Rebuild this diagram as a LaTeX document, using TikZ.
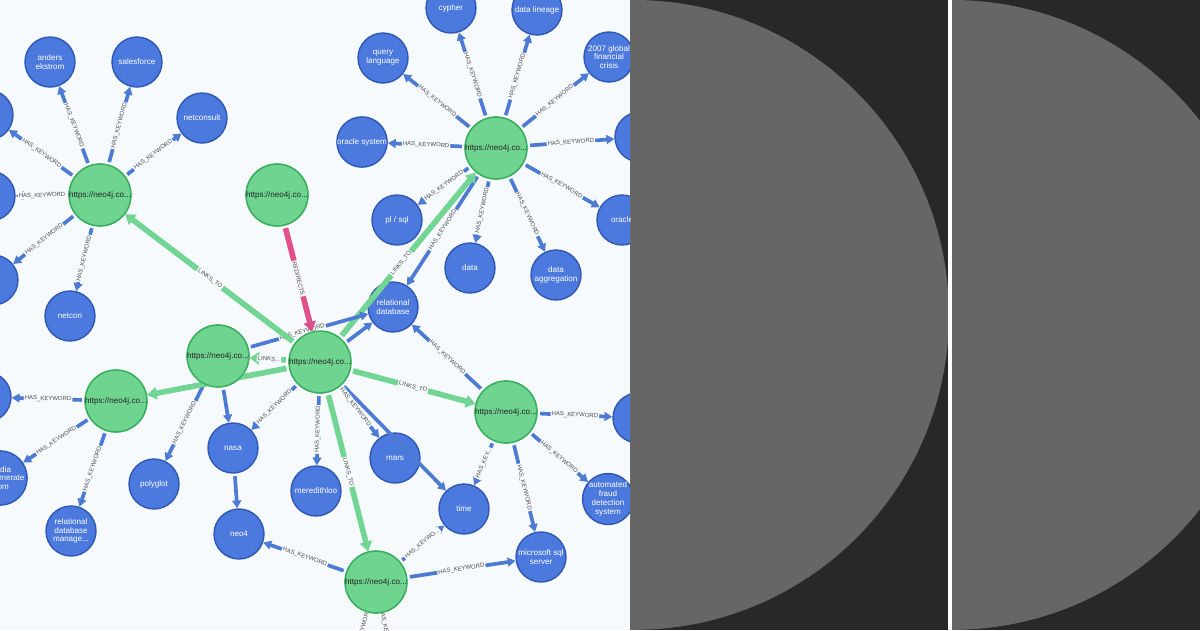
\documentclass[tikz,border=0pt]{standalone}
\usepackage{fontspec}
\setmainfont{Liberation Sans}
\usetikzlibrary{arrows.meta}
\definecolor{bgc}{HTML}{F6FAFD}
\definecolor{kwfill}{HTML}{4C79DD}
\definecolor{kwdraw}{HTML}{2F58B5}
\definecolor{pgfill}{HTML}{6FD48F}
\definecolor{pgdraw}{HTML}{3AAE5E}
\definecolor{eblue}{HTML}{4D7BD3}
\definecolor{egreen}{HTML}{72D593}
\definecolor{epink}{HTML}{E0508A}
\definecolor{darkbg}{HTML}{282828}
\definecolor{halfc}{HTML}{666666}
\tikzset{
 kw/.style={circle,fill=kwfill,draw=kwdraw,line width=0.8pt,minimum size=1cm,inner sep=0pt,align=center,text=white,font=\fontsize{4.6}{5}\selectfont},
 pg/.style={circle,fill=pgfill,draw=pgdraw,line width=0.8pt,minimum size=1.22cm,inner sep=0pt,align=center,text=black!85,font=\fontsize{4.6}{5}\selectfont},
 hk/.style={draw=eblue,line width=2.1pt,-{Triangle[length=4.5pt,width=5pt]},shorten <=1.5pt},
 lt/.style={draw=egreen,line width=3.2pt,-{Triangle[length=5.5pt,width=7pt]},shorten <=1.5pt},
 rd/.style={draw=epink,line width=3.2pt,-{Triangle[length=5.5pt,width=7pt]},shorten <=1.5pt},
 el/.style={midway,sloped,fill=bgc,inner sep=0.6pt,text=black!70,font=\fontsize{3.4}{3.6}\selectfont},
}
\begin{document}
\begin{tikzpicture}[x=0.02cm,y=-0.02cm]
\useasboundingbox (0,0) rectangle (1200,630);
\fill[bgc] (0,0) rectangle (630,630);
\fill[darkbg] (630,0) rectangle (1200,630);
\fill[halfc] (630,0) rectangle (634,630);
\fill[halfc] (634,0) arc[start angle=90,end angle=-90,radius=6.3cm] -- cycle;
\begin{scope}
\clip (952,0) rectangle (1200,630);
\fill[halfc] (952,0) arc[start angle=90,end angle=-90,radius=6.3cm] -- cycle;
\end{scope}
\fill[white] (948,0) rectangle (952,630);
\begin{scope}
\clip (0,0) rectangle (630,630);
% hubs
\node[pg] (A) at (100,195) {https://neo4j.co...};
\node[pg] (B) at (277,195) {https://neo4j.co...};
\node[pg] (C) at (320,362) {https://neo4j.co...};
\node[pg] (D) at (218,356) {https://neo4j.co...};
\node[pg] (E) at (116,401) {https://neo4j.co...};
\node[pg] (F) at (496,148) {https://neo4j.co...};
\node[pg] (G) at (506,412) {https://neo4j.co...};
\node[pg] (H) at (376,582) {https://neo4j.co...};
% keywords
\node[kw] (ak) at (50,62) {anders\\ekstrom};
\node[kw] (sf) at (137,62) {salesforce};
\node[kw] (nc) at (202,118) {netconsult};
\node[kw] (nt) at (70,316) {netcon};
\node[kw] (l1) at (-12,115) {};
\node[kw] (l2) at (-10,196) {};
\node[kw] (l3) at (-7,280) {};
\node[kw] (cy) at (451,8) {cypher};
\node[kw] (dl) at (537,10) {data lineage};
\node[kw] (ql) at (383,58) {query\\language};
\node[kw] (gf) at (609,57) {2007 global\\financial\\crisis};
\node[kw] (os) at (362,142) {oracle system};
\node[kw] (cb) at (640,137) {com\\b\\s};
\node[kw] (ps) at (397,220) {pl / sql};
\node[kw] (da) at (470,268) {data};
\node[kw] (dg) at (556,275) {data\\aggregation};
\node[kw] (or) at (622,220) {oracle};
\node[kw] (rd) at (393,307) {relational\\database};
\node[kw] (ts) at (638,418) {ti\\s};
\node[kw] (af) at (608,499) {automated\\fraud\\detection\\system};
\node[kw] (ms) at (541,557) {microsoft sql\\server};
\node[kw] (ti) at (464,509) {time};
\node[kw] (ma) at (395,458) {mars};
\node[kw] (me) at (316,491) {meredithloo};
\node[kw] (na) at (233,448) {nasa};
\node[kw] (n4) at (239,534) {neo4};
\node[kw] (po) at (154,484) {polyglot};
\node[kw] (rm) at (71,531) {relational\\database\\manage...};
\node[kw] (mc) at (0,478) {media\\conglomerate\\.com};
\node[kw] (l4) at (-14,397) {};
\coordinate (h1) at (357,650);
\coordinate (h2) at (390,650);
% edges
\path[hk] (A) -- (ak) node[el]{HAS\_KEYWORD};
\path[hk] (A) -- (sf) node[el]{HAS\_KEYWORD};
\path[hk] (A) -- (nc) node[el]{HAS\_KEYWORD};
\path[hk] (A) -- (nt) node[el]{HAS\_KEYWORD};
\path[hk] (A) -- (l1) node[el]{HAS\_KEYWORD};
\path[hk] (A) -- (l2) node[el]{HAS\_KEYWORD};
\path[hk] (A) -- (l3) node[el]{HAS\_KEYWORD};
\path[hk] (F) -- (cy) node[el]{HAS\_KEYWORD};
\path[hk] (F) -- (dl) node[el]{HAS\_KEYWORD};
\path[hk] (F) -- (ql) node[el]{HAS\_KEYWORD};
\path[hk] (F) -- (gf) node[el]{HAS\_KEYWORD};
\path[hk] (F) -- (os) node[el]{HAS\_KEYWORD};
\path[hk] (F) -- (cb) node[el]{HAS\_KEYWORD};
\path[hk] (F) -- (ps) node[el]{HAS\_KEYWORD};
\path[hk] (F) -- (da) node[el]{HAS\_KEYWORD};
\path[hk] (F) -- (dg) node[el]{HAS\_KEYWORD};
\path[hk] (F) -- (or) node[el]{HAS\_KEYWORD};
\path[hk] (F) -- (rd) node[el]{HAS\_KEYWORD};
\path[lt] (C) -- (F) node[el,pos=0.45]{LINKS\_TO};
\path[hk] (D) -- (rd) node[el,pos=0.45]{HAS\_KEYWORD};
\path[hk] (G) -- (rd) node[el]{HAS\_KEYWORD};
\path[hk] (G) -- (ts) node[el]{HAS\_KEYWORD};
\path[hk] (G) -- (af) node[el]{HAS\_KEYWORD};
\path[hk] (G) -- (ms) node[el]{HAS\_KEYWORD};
\path[hk] (G) -- (ti) node[el]{HAS\_KEY...};
\path[hk] (C) -- (ti);
\path[hk] (C) -- (ma) node[el,pos=0.4]{HAS\_KEYWORD};
\path[hk] (C) -- (me) node[el]{HAS\_KEYWORD};
\path[hk] (C) -- (na) node[el]{HAS\_KEYWORD};
\path[hk] (D) -- (na);
\path[hk] (D) -- (po) node[el]{HAS\_KEYWORD};
\path[hk] (na) -- (n4);
\path[hk] (E) -- (l4) node[el]{HAS\_KEYWORD};
\path[hk] (E) -- (mc) node[el]{HAS\_KEYWORD};
\path[hk] (E) -- (rm) node[el]{HAS\_KEYWORD};
\path[hk] (H) -- (n4) node[el]{HAS\_KEYWORD};
\path[hk] (H) -- (ti) node[el]{HAS\_KEYWO...};
\path[hk] (H) -- (ms) node[el]{HAS\_KEYWORD};
\path[hk] (H) -- (h1) node[el]{HAS\_KEYWORD};
\path[hk] (H) -- (h2) node[el]{HAS\_KEYWORD};
\path[lt] (C) -- (A) node[el]{LINKS\_TO};
\path[lt] (C) -- (E);
\path[lt] (C) -- (D) node[el]{LINKS...};
\path[lt] (C) -- (G) node[el]{LINKS\_TO};
\path[lt] (C) -- (H) node[el]{LINKS\_TO};
\path[rd] (B) -- (C) node[el]{REDIRECTS};
\path[hk] (C) -- (rd);
% redraw hubs on top
\foreach \n/\p in {A/{(100,195)},B/{(277,195)},C/{(320,362)},D/{(218,356)},E/{(116,401)},F/{(496,148)},G/{(506,412)},H/{(376,582)}}
  \node[pg] at \p {https://neo4j.co...};
\end{scope}
\end{tikzpicture}
\end{document}
